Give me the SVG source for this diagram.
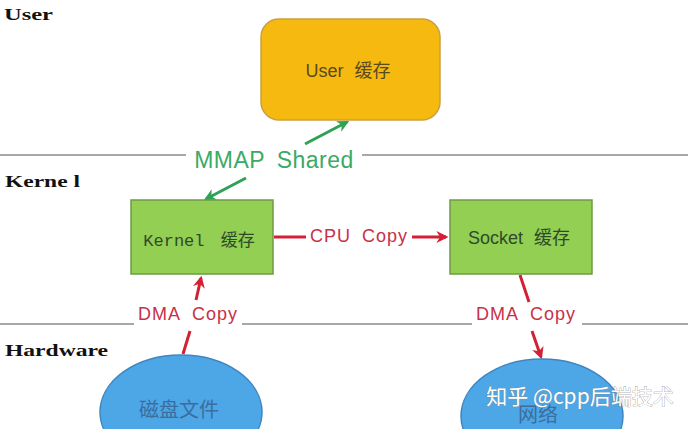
<svg xmlns="http://www.w3.org/2000/svg" width="688" height="429" viewBox="0 0 688 429">
<style>
.lane{font-family:"Liberation Serif","DejaVu Serif",serif;font-weight:bold;font-size:17px;fill:#111}
.sep{stroke:#a8a8a8;stroke-width:2;fill:none}
.lbl{font-family:"Liberation Sans","Noto Sans CJK SC",sans-serif;text-anchor:middle;dominant-baseline:central}
.red{stroke:#d42034;stroke-width:3;fill:none}
.grn{stroke:#2ea255;stroke-width:3;fill:none}
</style>
<defs>
<marker id="ar" viewBox="0 0 10 10" refX="8" refY="5" markerWidth="4" markerHeight="4" orient="auto" markerUnits="strokeWidth"><path d="M0,0L10,5L0,10L3,5z" fill="#d42034"/></marker>
<marker id="ag" viewBox="0 0 10 10" refX="8" refY="5" markerWidth="4" markerHeight="4" orient="auto" markerUnits="strokeWidth"><path d="M0,0L10,5L0,10L3,5z" fill="#2ea255"/></marker>
</defs>
<rect width="688" height="429" fill="#fff"/>
<g id="lanes">
<text class="lane" x="4" y="20" textLength="49" lengthAdjust="spacingAndGlyphs">User</text>
<text class="lane" x="5" y="187" textLength="75" lengthAdjust="spacingAndGlyphs">Kerne l</text>
<text class="lane" x="5" y="356" textLength="103" lengthAdjust="spacingAndGlyphs">Hardware</text>
<path class="sep" d="M0,155H186M362,155H688"/>
<path class="sep" d="M0,324H134M242,324H472M582,324H688"/>
</g>
<g id="connectors">
<path class="grn" d="M305,144L347,122" marker-end="url(#ag)"/>
<path class="grn" d="M246,178L206,199" marker-end="url(#ag)"/>
<text class="lbl" x="274" y="160" style="fill:#3aaa66;font-size:23px;word-spacing:5px;letter-spacing:0.5px">MMAP Shared</text>
<path class="red" d="M274,237H306"/>
<path class="red" d="M412,237H446" marker-end="url(#ar)"/>
<text class="lbl" x="359" y="236" style="fill:#c8304a;font-size:18px;word-spacing:5px;letter-spacing:1px">CPU Copy</text>
<path class="red" d="M183,354L190,331"/>
<path class="red" d="M196,300L201,278" marker-end="url(#ar)"/>
<text class="lbl" x="188" y="314" style="fill:#c8304a;font-size:18px;word-spacing:6px;letter-spacing:1px">DMA Copy</text>
<path class="red" d="M520,275L529,302"/>
<path class="red" d="M532,331L541,357" marker-end="url(#ar)"/>
<text class="lbl" x="526" y="314" style="fill:#c8304a;font-size:18px;word-spacing:6px;letter-spacing:1px">DMA Copy</text>
</g>
<g id="user-cache">
<rect x="261" y="19" width="179" height="101" rx="18" fill="#f5b90f" stroke="#c9a040" stroke-width="1.5"/>
<text class="lbl" x="348" y="71" style="fill:#5a4a20;font-size:18px;word-spacing:6px">User 缓存</text>
</g>
<g id="kernel-cache">
<rect x="131" y="200" width="142" height="74" fill="#92cf52" stroke="#6f9a46" stroke-width="1.5"/>
<text x="199" y="241" text-anchor="middle" dominant-baseline="central" font-family="Liberation Mono,'Noto Sans CJK SC',monospace" font-size="17" fill="#2f4a2a" style="word-spacing:6px">Kernel 缓存</text>
</g>
<g id="socket-cache">
<rect x="450" y="200" width="142" height="74" fill="#92cf52" stroke="#6f9a46" stroke-width="1.5"/>
<text class="lbl" x="519" y="238" style="fill:#2f4a2a;font-size:18px;word-spacing:6px">Socket 缓存</text>
</g>
<g id="disk-file">
<ellipse cx="181" cy="412" rx="81" ry="57" fill="#4da6e6" stroke="#3f86c0" stroke-width="1.5"/>
<text class="lbl" x="179" y="410" style="fill:#3a6e9e;font-size:20px">磁盘文件</text>
</g>
<g id="network">
<ellipse cx="542" cy="416" rx="81" ry="57" fill="#4da6e6" stroke="#3f86c0" stroke-width="1.5"/>
<text class="lbl" x="538" y="415" style="fill:#3a6e9e;font-size:20px">网络</text>
</g>
<text x="580" y="395" text-anchor="middle" dominant-baseline="central" font-family="'Noto Sans CJK SC','Liberation Sans',sans-serif" font-size="21" fill="#fff" stroke="#888" stroke-width="0.6" paint-order="stroke">知乎 @cpp后端技术</text>
</svg>
